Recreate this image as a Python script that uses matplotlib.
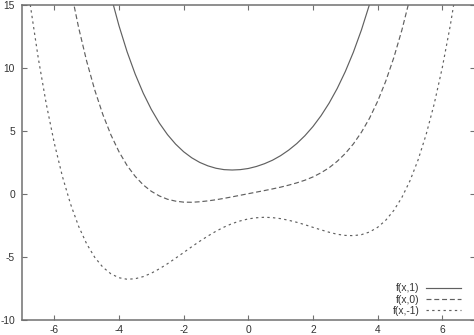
import matplotlib
matplotlib.use("Agg")
import matplotlib.pyplot as plt

# sample positions (read every 0.25 along x)
x_vals = [-7.0, -6.75, -6.5, -6.25, -6.0, -5.75, -5.5, -5.25, -5.0, -4.75,
          -4.5, -4.25, -4.0, -3.75, -3.5, -3.25, -3.0, -2.75, -2.5, -2.25,
          -2.0, -1.75, -1.5, -1.25, -1.0, -0.75, -0.5, -0.25, 0.0, 0.25,
          0.5, 0.75, 1.0, 1.25, 1.5, 1.75, 2.0, 2.25, 2.5, 2.75,
          3.0, 3.25, 3.5, 3.75, 4.0, 4.25, 4.5, 4.75, 5.0, 5.25,
          5.5, 5.75, 6.0, 6.25, 6.5, 6.75, 7.0]

f_a1 = [73.02, 64.65, 57.06, 50.20, 44.00, 38.43, 33.44, 28.98, 25.02, 21.51,
        18.42, 15.70, 13.33, 11.27, 9.50, 7.98, 6.69, 5.60, 4.69, 3.94,
        3.33, 2.85, 2.48, 2.21, 2.02, 1.91, 1.88, 1.91, 2.00, 2.16,
        2.38, 2.66, 3.02, 3.46, 3.98, 4.60, 5.33, 6.19, 7.19, 8.35,
        9.69, 11.23, 13.00, 15.03, 17.33, 19.95, 22.92, 26.26, 30.02, 34.23,
        38.94, 44.18, 50.00, 56.44, 63.57, 71.40, 80.02]

f_a0 = [46.52, 39.87, 33.94, 28.66, 24.00, 19.90, 16.31, 13.20, 10.52, 8.23,
        6.29, 4.67, 3.33, 2.24, 1.38, 0.70, 0.19, -0.18, -0.44, -0.59,
        -0.67, -0.68, -0.64, -0.57, -0.48, -0.37, -0.25, -0.125, 0.0, 0.125,
        0.25, 0.38, 0.52, 0.68, 0.86, 1.07, 1.33, 1.66, 2.06, 2.57,
        3.19, 3.95, 4.88, 5.99, 7.33, 8.92, 10.79, 12.98, 15.52, 18.45,
        21.81, 25.65, 30.00, 34.91, 40.44, 46.62, 53.52]

f_am1 = [20.02, 15.09, 10.81, 7.13, 4.00, 1.37, -0.81, -2.58, -3.98, -5.05,
         -5.83, -6.36, -6.67, -6.79, -6.75, -6.58, -6.31, -5.96, -5.56, -5.12,
         -4.67, -4.21, -3.77, -3.36, -2.98, -2.65, -2.37, -2.16, -2.00, -1.91,
         -1.87, -1.90, -1.98, -2.11, -2.27, -2.46, -2.67, -2.87, -3.06, -3.22,
         -3.31, -3.33, -3.25, -3.04, -2.67, -2.11, -1.33, -0.30, 1.02, 2.67,
         4.69, 7.12, 10.00, 13.38, 17.31, 21.84, 27.02]

series_labels = ["f(x,1)", "f(x,0)", "f(x,-1)"]
x_ticks = [-6, -4, -2, 0, 2, 4, 6]
y_ticks = [-10, -5, 0, 5, 10, 15]

plt.rcParams['font.family'] = ['Liberation Sans', 'DejaVu Sans']
plt.rcParams['axes.unicode_minus'] = False

W, H = 474, 335
fig = plt.figure(figsize=(W / 100, H / 100), dpi=100)
left, right, top, bottom = 22.0, 474.6, 4.7, 319.7
ax = fig.add_axes([left / W, (H - bottom) / H, (right - left) / W, (bottom - top) / H])

line_color = '#606060'
ax.plot(x_vals, f_a1, color=line_color, lw=0.85, linestyle='-', label=series_labels[0])
ax.plot(x_vals, f_a0, color=line_color, lw=0.85, linestyle=(0, (4.2, 2.4)), label=series_labels[1])
ax.plot(x_vals, f_am1, color=line_color, lw=0.85, linestyle=(0, (2.0, 2.8)), label=series_labels[2])

ax.set_xlim(-7, 7)
ax.set_ylim(-10, 15)
ax.set_xticks(x_ticks)
ax.set_yticks(y_ticks)

for s in ax.spines.values():
    s.set_color('#707070')
    s.set_linewidth(1.1)

ax.tick_params(direction='in', length=3.6, width=0.8, color='#707070',
               top=True, right=True, labelsize=7.4, labelcolor='#333333', pad=5)
ax.tick_params(axis='x', pad=4.0)

leg = ax.legend(loc='lower right', bbox_to_anchor=(0.9706, 0.012), frameon=False,
                markerfirst=False, fontsize=7.4, handlelength=3.4, handletextpad=0.65,
                labelspacing=0.12, borderpad=0, borderaxespad=0)
for t in leg.get_texts():
    t.set_color('#333333')

fig.savefig('out.png', dpi=100)
